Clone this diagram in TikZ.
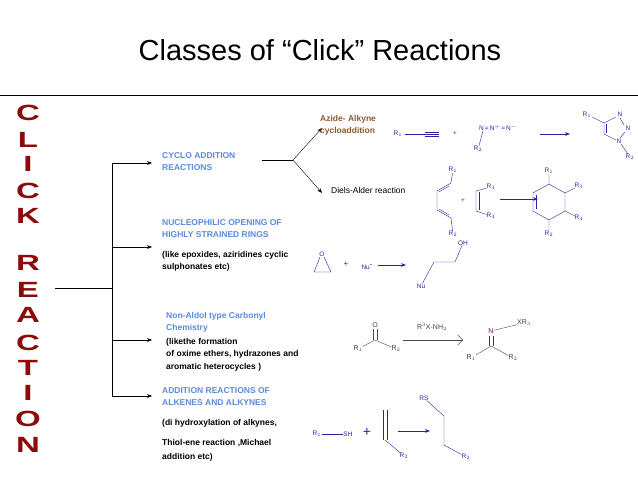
\documentclass[tikz,border=0pt]{standalone}
\usepackage{fontspec}
\setmainfont{Liberation Sans}
\usetikzlibrary{arrows.meta}
\definecolor{lb}{HTML}{5B8BD9}
\definecolor{ch}{HTML}{2525A5}
\definecolor{br}{HTML}{8B5A2B}
\definecolor{dr}{HTML}{8B0A0A}
\tikzset{
  cat/.style={anchor=north west,align=left,font=\fontsize{8.5}{12.5}\selectfont\bfseries,text=lb,inner sep=0},
  blk/.style={anchor=north west,align=left,font=\fontsize{8.5}{12.5}\selectfont\bfseries,inner sep=0},
  big/.style={font=\fontsize{22}{22}\selectfont\bfseries,text=dr,inner sep=0},
  arr/.style={-{Stealth[length=5pt]},thin},
  ca/.style={-{Stealth[length=5pt]},ch,thick},
  bd/.style={ch,thin},
  lab/.style={font=\fontsize{6.5}{7}\selectfont,text=ch,inner sep=0}
}
\begin{document}
\begin{tikzpicture}[x=1pt,y=-1pt]
\useasboundingbox (0,0) rectangle (638,479);
\fill[white] (0,0) rectangle (638,479);
\node[font=\fontsize{29}{30}\selectfont] (title) at (320,50) {Classes of “Click” Reactions};
\draw (0,95) coordinate (l1) -- (638,95) coordinate (l2);
% big letters
\foreach \t/\y [count=\i] in {C/113,L/140,I/164,C/191,K/216,R/263,E/290,A/315,C/343,T/368,I/393,O/419,N/445}
  \node[big] (c\i) at (28,\y) {\scalebox{1.5}[1]{\t}};
% tree
\coordinate (r0) at (55,288);
\coordinate (tr) at (112,163); \coordinate (br0) at (112,396);
\draw (r0) -- (112,288);
\draw (tr) -- (br0);
\coordinate (a1) at (152,163); \coordinate (a2) at (152,247);
\coordinate (a3) at (152,340); \coordinate (a4) at (152,396);
\draw[arr] (tr) -- (a1);
\draw[arr] (112,247) -- (a2);
\draw[arr] (112,340) -- (a3);
\draw[arr] (br0) -- (a4);
\node[cat] (k1) at (162,152) {CYCLO ADDITION\\REACTIONS};
\coordinate (s0) at (262,160); \coordinate (s1) at (293,160);
\coordinate (u1) at (322,128); \coordinate (d1) at (322,193);
\draw (s0) -- (s1);
\draw[arr] (s1) -- (u1);
\draw[arr] (s1) -- (d1);
\node[cat,text=br] (az) at (320,115) {Azide- Alkyne\\cycloaddition};
\node[anchor=west,font=\fontsize{8.5}{10}\selectfont,inner sep=0] (da) at (331,190) {Diels-Alder reaction};
\node[cat] (k2) at (162,219) {NUCLEOPHILIC OPENING OF\\HIGHLY STRAINED RINGS};
\node[blk] (k2b) at (162,251) {(like epoxides, aziridines cyclic\\sulphonates etc)};
\node[cat] (k3) at (166,312) {Non-Aldol type Carbonyl\\Chemistry};
\node[blk] (k3b) at (166,338) {(likethe formation\\of oxime ethers, hydrazones and\\aromatic heterocycles )};
\node[cat] (k4) at (162,387) {ADDITION REACTIONS OF\\ALKENES AND ALKYNES};
\node[blk,font=\fontsize{8.5}{20}\selectfont\bfseries] (k4b) at (162,419) {(di hydroxylation of alkynes,\\Thiol-ene reaction ,Michael};
\node[blk] (k4c) at (162,453) {addition etc)};
% azide-alkyne
\node[lab] (r1a) at (398,134) {R$_1$};
\draw[bd] (r1a.east) ++(2,0) -- ++(20,0) coordinate (ta);
\draw[bd] (ta) -- ++(14,0) (ta)++(0,-2) -- ++(14,0) (ta)++(0,2) -- ++(14,0);
\node[lab] (p1) at (455,134) {+};
\node[lab] (azd) at (498,128) {N\,=\,N$^{+}$\,=\,N$^{-}$};
\node[lab] (r2a) at (478,149) {R$_2$};
\draw[bd] (483,131) -- (r2a);
\coordinate (ar1s) at (540,134); \coordinate (ar1e) at (570,134);
\draw[ca] (ar1s) -- (ar1e);
\coordinate (t1) at (604,123); \coordinate (t5) at (604,134);
\draw[bd] (t1) -- (616,117) (620,118) -- (624,125) (625,132) -- (620,138) (616,140) -- (t5) -- (t1);
\draw[bd] (606,124) -- (606,133);
\draw[bd] (t1) -- (592,117);
\node[lab] (tn1) at (620,114) {N};
\node[lab] (tn2) at (628,128) {N};
\node[lab] (tn3) at (619,141) {N};
\node[lab] (tr1) at (587,115) {R$_1$};
\node[lab] (tr2) at (630,157) {R$_2$};
\draw[bd] (621,144) -- (tr2);
% Diels-Alder
\node[lab] (dr1) at (453,170) {R$_1$};
\node[lab] (dr2) at (453,234) {R$_2$};
\draw[bd] (dr1) -- (451,183) -- (437,191) -- (437,210) -- (451,218) -- (dr2);
\draw[bd] (449,186) -- (439,192) (439,209) -- (449,215);
\node[lab] (p2) at (463,201) {+};
\node[lab] (dr3) at (491,187) {R$_3$};
\node[lab] (dr4) at (491,216) {R$_4$};
\draw[bd] (dr3) -- (476,191) -- (476,211) -- (dr4);
\draw[bd] (479,192) -- (479,210);
\coordinate (ar2s) at (500,199); \coordinate (ar2e) at (538,199);
\draw[ca] (ar2s) -- (ar2e);
\draw[bd] (549,184) -- (565,193) -- (565,211) -- (549,220) -- (533,211) -- (533,193) -- cycle;
\draw[bd] (536,195) -- (536,209);
\node[lab] (hr1) at (549,171) {R$_1$};
\node[lab] (hr3) at (579,186) {R$_3$};
\node[lab] (hr4) at (579,218) {R$_4$};
\node[lab] (hr2) at (549,234) {R$_2$};
\draw[bd] (549,184) -- (hr1) (565,193) -- (hr3) (565,211) -- (hr4) (549,220) -- (hr2);
% epoxide
\node[lab] (eo) at (322,254) {O};
\draw[bd] (320,257) -- (314,272) -- (331,272) -- (324,257);
\node[lab,font=\fontsize{8}{8}\selectfont] (p3) at (346,264) {+};
\node[lab,font=\fontsize{6.5}{7}\selectfont\rmfamily] (nu) at (367,267) {Nu$^{\textbf{-}}$};
\coordinate (ar3s) at (378,265); \coordinate (ar3e) at (406,265);
\draw[ca] (ar3s) -- (ar3e);
\node[lab] (oh) at (463,243) {OH};
\node[lab,font=\fontsize{6.5}{7}\selectfont\rmfamily] (nu2) at (421,286) {Nu};
\draw[bd] (oh) -- (455,262) -- (434,262) -- (nu2);
% carbonyl
\tikzset{gl/.style={font=\fontsize{7}{7}\selectfont,text=black!75,inner sep=0}}
\node[gl] (co) at (375,325) {O};
\node[gl] (cr1) at (358,349) {R$_1$};
\node[gl] (cr2) at (396,349) {R$_2$};
\draw[black!70] (373,329) -- (373,340) (377,329) -- (377,340);
\draw[black!70] (cr1) -- (375,340) -- (cr2);
\coordinate (ar4s) at (403,340); \coordinate (ar4e) at (463,340);
\draw[black!70,-{Straight Barb[length=5pt]}] (ar4s) -- (ar4e);
\node[gl] (rx) at (432,327) {R$^3$X-NH$_2$};
\node[gl,text=violet] (nn) at (491,331) {N};
\node[gl] (xr) at (524,323) {XR$_3$};
\draw[black!70] (nn) -- (xr);
\draw[red!75!black] (489,336) -- (489,346) (493,336) -- (493,346);
\node[gl] (pr1) at (471,358) {R$_1$};
\node[gl] (pr2) at (513,358) {R$_2$};
\draw[black!70] (pr1) -- (491,346) -- (pr2);
% thiol-ene
\node[lab] (tr1b) at (317,434) {R$_1$};
\node[lab] (sh) at (348,434) {SH};
\draw[bd] (tr1b) -- (sh);
\node[lab,font=\fontsize{14}{14}\selectfont] (p4) at (367,432) {+};
\draw[bd] (383,410) -- (383,440) (387,410) -- (387,440);
\node[lab] (ar2) at (404,456) {R$_2$};
\draw[bd] (385,440) -- (ar2);
\coordinate (ar5s) at (398,431); \coordinate (ar5e) at (430,431);
\draw[ca] (ar5s) -- (ar5e);
\node[lab] (rs) at (424,398) {RS};
\node[lab] (pr2b) at (466,457) {R$_2$};
\draw[bd] (rs) -- (444,416) -- (444,445) -- (pr2b);
\end{tikzpicture}
\end{document}
